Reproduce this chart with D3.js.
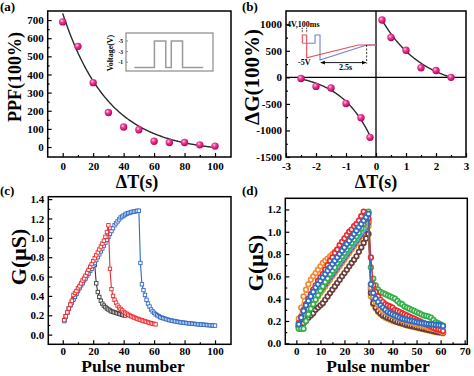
<!DOCTYPE html>
<html>
<head>
<meta charset="utf-8">
<script src="https://cdn.jsdelivr.net/npm/d3@7"></script>
<style>
body { margin: 0; background: #fff; }
text { font-family: "Liberation Serif", "Times New Roman", serif; font-weight: bold; fill: #000; }
</style>
</head>
<body>
<svg id="fig" width="474" height="376"></svg>
<script>
// ---- (a) PPF vs pulse interval
var ppfDt = [0, 10, 20, 30, 40, 50, 60, 70, 80, 90, 100];
var ppfVal = [690, 555, 355, 190, 110, 95, 32, 25, 25, 12, 5];
var ppfFit = [767, 30, -30];            // A, tau, y0 of the exponential fit
var pulseT = [0, 2.33, 2.33, 3.65, 3.65, 4.29, 4.29, 5.6, 5.6, 8];
var pulseV = [0, 0, -5, -5, 0, 0, -5, -5, 0, 0];
var pulseTicks = [-5, -3, -1];

// ---- (b) STDP
var stdpPosDt = [0.2, 0.5, 1, 1.5, 2, 2.5];
var stdpPosVal = [1080, 750, 510, 180, 130, 0];
var stdpNegDt = [-2.5, -2, -1.5, -1, -0.5, -0.2];
var stdpNegVal = [-20, -170, -200, -490, -760, -1130];
var stdpPosFit = [1538, 1.376, -250];   // A, tau, y0
var stdpNegFit = [1456, 1.035, 100];
var schemRedT = [17.2, 17.2, 22.1, 22.1, 80.1, 100];
var schemRedV = [0, 4, 4, -7, -0.8, -0.8];
var schemBlueT = [17.2, 31.5, 31.5, 37.1, 37.1, 89.5, 100];
var schemBlueV = [0, 0, 4, 4, -8, -0.8, -0.8];

// ---- (c) potentiation / depression with 20, 30, 50 pulses
var cBlack = [.15,.19,.23,.27,.31,.34,.37,.40,.43,.46,.49,.52,.54,.57,.60,.63,.66,.68,.71,.74,
  .72,.53,.44,.39,.35,.32,.30,.285,.27,.26,.25,.24,.235,.23,.225,.22,.215,.21,.205,.20,.198];
var cRed = [.15,.19,.23,.27,.31,.35,.41,.43,.45,.48,.50,.53,.56,.58,.61,.64,.67,.70,.73,.76,
  .79,.82,.85,.88,.91,.94,.97,1.01,1.06,1.13,
  .68,.47,.40,.36,.33,.30,.28,.265,.25,.235,.225,.215,.205,.197,.19,.183,.176,.17,.164,.158,
  .152,.147,.142,.137,.132,.127,.122,.118,.114,.11,.106];
var cBlue = [.14,.19,.23,.27,.30,.33,.36,.39,.42,.45,.48,.51,.53,.56,.58,.61,.63,.66,.68,.71,
  .74,.77,.80,.83,.86,.89,.92,.95,.98,1.01,1.04,1.07,1.10,1.13,1.15,1.17,1.19,1.21,1.22,1.23,
  1.24,1.25,1.255,1.26,1.265,1.27,1.27,1.275,1.28,1.28,
  .74,.52,.46,.41,.36,.32,.29,.26,.24,.225,.21,.20,.19,.18,.175,.17,.165,.16,.155,.15,
  .146,.143,.14,.137,.134,.131,.128,.126,.124,.122,.12,.118,.116,.115,.113,.111,.11,.108,.107,.105,
  .104,.103,.101,.10,.099,.098,.096,.095,.094,.093];

// ---- (d) repeated cycles, 30 up + 31 down
var dGold = [.14,.18,.22,.26,.30,.33,.36,.39,.42,.45,.48,.51,.54,.57,.60,.63,.66,.69,.72,.75,.78,.81,.84,.87,.90,.93,.96,.99,1.02,1.05,
  .42,.35,.31,.28,.26,.245,.23,.22,.21,.20,.195,.19,.18,.175,.17,.16,.155,.15,.145,.14,.135,.13,.125,.12,.115,.11,.105,.10,.10,.095,.09];
var dPurple = [.16,.20,.24,.28,.32,.35,.38,.41,.44,.47,.50,.53,.56,.59,.62,.65,.68,.71,.74,.77,.80,.83,.86,.89,.92,.95,.98,1.01,1.04,1.08,
  .48,.40,.35,.32,.30,.28,.265,.25,.24,.23,.22,.21,.20,.195,.19,.18,.175,.17,.165,.16,.15,.145,.14,.135,.13,.125,.12,.115,.11,.105,.10];
var dCyan = [.15,.19,.23,.27,.31,.35,.39,.43,.46,.49,.52,.55,.58,.61,.64,.67,.70,.73,.76,.79,.82,.85,.88,.91,.94,.97,1.00,1.03,1.06,1.10,
  .50,.42,.37,.34,.31,.29,.275,.26,.25,.24,.23,.22,.21,.20,.195,.19,.185,.18,.17,.165,.16,.155,.15,.145,.14,.135,.13,.125,.12,.115,.11];
var dBrown = [.15,.16,.18,.20,.23,.25,.27,.30,.32,.34,.36,.39,.42,.45,.48,.51,.54,.57,.60,.63,.66,.69,.72,.75,.78,.82,.86,.90,.94,.98,
  .45,.36,.32,.29,.27,.25,.24,.23,.22,.21,.20,.19,.185,.18,.17,.165,.16,.155,.15,.145,.14,.135,.13,.125,.12,.115,.11,.105,.10,.10,.095];
var dOrange = [.22,.32,.42,.48,.53,.57,.60,.63,.66,.69,.72,.74,.76,.78,.80,.82,.84,.86,.88,.90,.92,.94,.96,.98,1.00,1.02,1.04,1.06,1.08,1.10,
  .50,.42,.37,.34,.31,.29,.28,.27,.26,.25,.24,.23,.22,.21,.205,.20,.19,.185,.18,.17,.165,.16,.155,.15,.14,.135,.13,.125,.12,.11,.10];
var dGreen = [.13,.13,.13,.20,.26,.31,.35,.39,.43,.47,.51,.55,.58,.62,.65,.68,.72,.75,.78,.81,.84,.87,.90,.93,.96,.99,1.03,1.07,1.12,1.18,
  .68,.58,.52,.48,.46,.45,.44,.43,.42,.41,.40,.38,.36,.35,.33,.32,.31,.30,.29,.28,.27,.26,.25,.245,.24,.23,.21,.19,.18,.17,.155];
var dRed = [.18,.24,.30,.35,.40,.44,.48,.52,.56,.59,.62,.66,.70,.74,.77,.81,.84,.88,.91,.94,.97,1.00,1.02,1.05,1.07,1.10,1.14,1.18,1.15,1.12,
  .77,.52,.46,.42,.39,.37,.35,.34,.33,.32,.30,.29,.28,.27,.26,.25,.24,.23,.22,.21,.20,.19,.18,.17,.16,.15,.14,.13,.125,.12,.11];
var dBlue = [.17,.23,.29,.34,.38,.42,.46,.50,.53,.56,.59,.62,.65,.68,.71,.74,.77,.80,.83,.86,.89,.92,.95,.98,1.01,1.04,1.07,1.10,1.13,1.16,
  .53,.45,.40,.37,.34,.32,.30,.28,.27,.26,.25,.24,.23,.22,.215,.21,.205,.20,.195,.19,.185,.18,.178,.175,.172,.17,.168,.165,.162,.16,.155];
var dSeries = [
  {v: dGold, c: "#d9a521"}, {v: dPurple, c: "#7a55a8"}, {v: dCyan, c: "#45b3cf"},
  {v: dBrown, c: "#6e3b3b"}, {v: dOrange, c: "#f28a30"}, {v: dGreen, c: "#35b04a"},
  {v: dRed, c: "#ec2a2f"}, {v: dBlue, c: "#2d6cc0"}
];

var svg = d3.select("#fig");
var defs = svg.append("defs");
var grad = defs.append("radialGradient").attr("id", "ball").attr("cx", "38%").attr("cy", "35%").attr("r", "65%");
grad.append("stop").attr("offset", "0%").attr("stop-color", "#ffd6ea");
grad.append("stop").attr("offset", "35%").attr("stop-color", "#f0449c");
grad.append("stop").attr("offset", "100%").attr("stop-color", "#b8005a");
defs.append("marker").attr("id", "arr").attr("viewBox", "0 0 10 10").attr("refX", 9).attr("refY", 5)
  .attr("markerWidth", 5).attr("markerHeight", 5).attr("orient", "auto-start-reverse")
  .append("path").attr("d", "M0,1L10,5L0,9Z").attr("fill", "#000");

function fmtPlain(d) { return String(d); }

function panel(o) {
  var x = d3.scaleLinear().domain(o.xd).range([o.l, o.r]);
  var y = d3.scaleLinear().domain(o.yd).range([o.b, o.t]);
  var g = svg.append("g");
  function style(sel) {
    sel.attr("font-family", "Liberation Serif").attr("font-size", 11).attr("font-weight", "bold");
    sel.selectAll("line").attr("stroke-width", 1.2);
    sel.select(".domain").remove();
  }
  g.append("g").attr("transform", "translate(0," + o.b + ")")
    .call(d3.axisBottom(x).tickValues(o.xminor).tickSize(-2).tickFormat("")).call(style);
  g.append("g").attr("transform", "translate(0," + o.b + ")")
    .call(d3.axisBottom(x).tickValues(o.xmajor).tickSize(-4).tickPadding(o.xpad || 5).tickFormat(o.xf || fmtPlain)).call(style);
  g.append("g").attr("transform", "translate(" + o.l + ",0)")
    .call(d3.axisLeft(y).tickValues(o.yminor).tickSize(-2).tickFormat("")).call(style);
  g.append("g").attr("transform", "translate(" + o.l + ",0)")
    .call(d3.axisLeft(y).tickValues(o.ymajor).tickSize(-4).tickPadding(4).tickFormat(o.yf || fmtPlain)).call(style);
  var data = svg.append("g");
  var frame = function() {
    svg.append("rect").attr("x", o.l).attr("y", o.t).attr("width", o.r - o.l).attr("height", o.b - o.t)
      .attr("fill", "none").attr("stroke", "#000").attr("stroke-width", 1.5);
  };
  return {x: x, y: y, g: data, frame: frame};
}

function label(txt, x, y, size, rot) {
  var t = svg.append("text").attr("font-size", size).attr("text-anchor", "middle").text(txt);
  if (rot) t.attr("transform", "translate(" + x + "," + y + ") rotate(-90)").attr("dy", "0.35em");
  else t.attr("x", x).attr("y", y);
  return t;
}

// ================= (a)
var A = panel({l: 47.7, r: 231, t: 11, b: 157, xd: [-9.85, 110.5], yd: [-55, 750],
  xmajor: [0, 20, 40, 60, 80, 100], xminor: [10, 30, 50, 70, 90],
  ymajor: [0, 100, 200, 300, 400, 500, 600, 700], yminor: [50, 150, 250, 350, 450, 550, 650]});
A.g.append("path")
  .datum(d3.range(0, 100.01, 0.5))
  .attr("fill", "none").attr("stroke", "#2b2b2b").attr("stroke-width", 1.4)
  .attr("d", d3.line().x(function(d) { return A.x(d); })
    .y(function(d) { return A.y(ppfFit[0] * Math.exp(-d / ppfFit[1]) + ppfFit[2]); }));
A.g.selectAll(".pa").data(ppfDt).enter().append("circle")
  .attr("cx", function(d) { return A.x(d); })
  .attr("cy", function(d, i) { return A.y(ppfVal[i]); })
  .attr("r", 3.7).attr("fill", "url(#ball)");
A.frame();

// inset of (a)
var ix = d3.scaleLinear().domain([-0.97, 9.14]).range([126, 213]);
var iy = d3.scaleLinear().domain([0.66, -6.5]).range([71, 33]);
svg.append("rect").attr("x", 126).attr("y", 33).attr("width", 87).attr("height", 38)
  .attr("fill", "#fff").attr("stroke", "#8a8a8a").attr("stroke-width", 1.2);
svg.append("path").datum(pulseT)
  .attr("fill", "none").attr("stroke", "#9a9a9a").attr("stroke-width", 1.5)
  .attr("d", d3.line().x(function(d) { return ix(d); }).y(function(d, i) { return iy(pulseV[i]); }));
svg.selectAll(".itk").data(pulseTicks).enter().append("text")
  .attr("x", 123).attr("y", function(d) { return iy(d); }).attr("dy", "0.35em")
  .attr("text-anchor", "end").attr("font-size", 5.5).attr("fill", "#444").text(fmtPlain);
svg.selectAll(".itl").data(pulseTicks).enter().append("line")
  .attr("x1", 126).attr("x2", 128).attr("y1", function(d) { return iy(d); }).attr("y2", function(d) { return iy(d); })
  .attr("stroke", "#8a8a8a");
label("Voltage(V)", 110, 53, 8, true).attr("fill", "#333");

// ================= (b)
var B = panel({l: 286, r: 466, t: 11, b: 157, xd: [-3, 3], yd: [-1500, 1250],
  xmajor: [-3, -2, -1, 0, 1, 2, 3], xminor: [-2.5, -1.5, -0.5, 0.5, 1.5, 2.5],
  ymajor: [-1500, -1000, -500, 0, 500, 1000], yminor: [-1250, -750, -250, 250, 750]});
B.g.append("line").attr("x1", B.x(0)).attr("x2", B.x(0)).attr("y1", B.y(1250)).attr("y2", B.y(-1500))
  .attr("stroke", "#000").attr("stroke-width", 1.3);
B.g.append("line").attr("x1", B.x(-3)).attr("x2", B.x(3)).attr("y1", B.y(0)).attr("y2", B.y(0))
  .attr("stroke", "#000").attr("stroke-width", 1.3);
B.g.append("path").datum(d3.range(0.2, 2.501, 0.02))
  .attr("fill", "none").attr("stroke", "#2b2b2b").attr("stroke-width", 1.4)
  .attr("d", d3.line().x(function(d) { return B.x(d); })
    .y(function(d) { return B.y(stdpPosFit[0] * Math.exp(-d / stdpPosFit[1]) + stdpPosFit[2]); }));
B.g.append("path").datum(d3.range(-2.5, -0.199, 0.02))
  .attr("fill", "none").attr("stroke", "#2b2b2b").attr("stroke-width", 1.4)
  .attr("d", d3.line().x(function(d) { return B.x(d); })
    .y(function(d) { return B.y(stdpNegFit[2] - stdpNegFit[0] * Math.exp(d / stdpNegFit[1])); }));
B.g.selectAll(".pbp").data(stdpPosDt).enter().append("circle")
  .attr("cx", function(d) { return B.x(d); }).attr("cy", function(d, i) { return B.y(stdpPosVal[i]); })
  .attr("r", 3.7).attr("fill", "url(#ball)");
B.g.selectAll(".pbn").data(stdpNegDt).enter().append("circle")
  .attr("cx", function(d) { return B.x(d); }).attr("cy", function(d, i) { return B.y(stdpNegVal[i]); })
  .attr("r", 3.7).attr("fill", "url(#ball)");

// schematic in (b)
var sx = d3.scaleLinear().domain([0, 100]).range([287, 376]);
var sy = d3.scaleLinear().domain([0, 4]).range([43.3, 35]);
function schem(t, v, col) {
  svg.append("path").datum(t).attr("fill", "none").attr("stroke", col).attr("stroke-width", 1.1)
    .attr("d", d3.line().x(function(d) { return sx(d); }).y(function(d, i) { return sy(v[i]); }));
}
schem(schemBlueT, schemBlueV, "#6f7fd6");
schem(schemRedT, schemRedV, "#ee4b55");
[17.2, 22.1].forEach(function(t) {
  svg.append("line").attr("x1", sx(t)).attr("x2", sx(t)).attr("y1", sy(7.5)).attr("y2", sy(5))
    .attr("stroke", "#000").attr("stroke-width", 0.8).attr("stroke-dasharray", "1.5,1");
});
svg.append("line").attr("x1", sx(89.5)).attr("x2", sx(89.5)).attr("y1", sy(-0.8)).attr("y2", sy(-9.8))
  .attr("stroke", "#000").attr("stroke-width", 0.8).attr("stroke-dasharray", "2,1.5");
svg.append("line").attr("x1", sx(38)).attr("x2", sx(88.8)).attr("y1", sy(-9.3)).attr("y2", sy(-9.3))
  .attr("stroke", "#000").attr("stroke-width", 0.9)
  .attr("marker-start", "url(#arr)").attr("marker-end", "url(#arr)");
svg.append("text").attr("x", sx(0)).attr("y", sy(7.8)).attr("font-size", 8).text("4V,100ms");
svg.append("text").attr("x", sx(12.4)).attr("y", sy(-10.5)).attr("font-size", 8).text("-5V");
svg.append("text").attr("x", sx(65.7)).attr("y", sy(-12.9)).attr("font-size", 8).attr("text-anchor", "middle").text("2.5s");
B.frame();

// ================= (c)
var C = panel({l: 48.3, r: 231, t: 196.7, b: 344.3, xd: [-9.5, 110.5], yd: [-0.1, 1.425],
  xmajor: [0, 20, 40, 60, 80, 100], xminor: [10, 30, 50, 70, 90], xpad: 3,
  ymajor: [0, .2, .4, .6, .8, 1.0, 1.2, 1.4], yminor: [.1, .3, .5, .7, .9, 1.1, 1.3],
  yf: d3.format(".1f")});
function cSeries(vals, col) {
  var pts = vals.map(function(v, i) { return [i + 1, v]; });
  C.g.append("path").datum(pts).attr("fill", "none").attr("stroke", col).attr("stroke-width", 1.1)
    .attr("d", d3.line().x(function(d) { return C.x(d[0]); }).y(function(d) { return C.y(d[1]); }));
  C.g.selectAll(null).data(pts).enter().append("rect")
    .attr("x", function(d) { return C.x(d[0]) - 1.7; }).attr("y", function(d) { return C.y(d[1]) - 1.7; })
    .attr("width", 3.4).attr("height", 3.4).attr("fill", "#fff").attr("stroke", col).attr("stroke-width", 0.9);
}
cSeries(cBlack, "#3b3b3b");
cSeries(cBlue, "#3169c6");
cSeries(cRed, "#ec2b31");
C.frame();

// ================= (d)
var D = panel({l: 285.3, r: 467.3, t: 198.3, b: 344.3, xd: [-4.6, 71.1], yd: [-0.009, 1.3],
  xmajor: [0, 10, 20, 30, 40, 50, 60, 70], xminor: [5, 15, 25, 35, 45, 55, 65], xpad: 3,
  ymajor: [0, .2, .4, .6, .8, 1.0, 1.2], yminor: [.1, .3, .5, .7, .9, 1.1],
  yf: d3.format(".1f")});
dSeries.forEach(function(s) {
  var pts = s.v.map(function(v, i) { return [i + 1, v]; });
  D.g.append("path").datum(pts).attr("fill", "none").attr("stroke", s.c).attr("stroke-width", 1.2)
    .attr("d", d3.line().x(function(d) { return D.x(d[0]); }).y(function(d) { return D.y(d[1]); }));
  D.g.selectAll(null).data(pts).enter().append("circle")
    .attr("cx", function(d) { return D.x(d[0]); }).attr("cy", function(d) { return D.y(d[1]); })
    .attr("r", 2.3).attr("fill", "#fff").attr("stroke", s.c).attr("stroke-width", 1.7);
});
D.frame();

// ================= titles and panel letters
label("PPF(100%)", 15, 77, 18, true);
label("\u0394T(s)", 137, 188, 18);
label("\u0394G(100%)", 252, 77, 21, true);
label("\u0394T(s)", 376, 188, 18);
label("G(\u03bcS)", 18, 257, 22, true);
label("Pulse number", 133, 372, 17.5);
label("G(\u03bcS)", 255, 263, 22, true);
label("Pulse number", 378, 372, 17.5);
svg.append("text").attr("x", 0).attr("y", 11).attr("font-size", 13).text("(a)");
svg.append("text").attr("x", 242).attr("y", 11).attr("font-size", 13).text("(b)");
svg.append("text").attr("x", 0).attr("y", 195).attr("font-size", 13).text("(c)");
svg.append("text").attr("x", 242).attr("y", 195).attr("font-size", 13).text("(d)");
</script>
</body>
</html>
